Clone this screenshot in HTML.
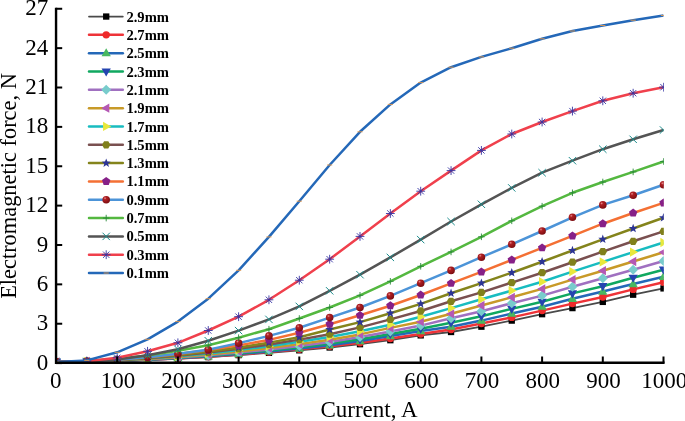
<!DOCTYPE html>
<html><head><meta charset="utf-8"><title>Electromagnetic force vs current</title>
<style>html,body{margin:0;padding:0;background:#fff}body{width:685px;height:421px;position:relative;overflow:hidden}</style></head>
<body>
<svg width="685" height="421" viewBox="0 0 685 421" style="position:absolute;left:0;top:0">
<defs><radialGradient id="ball" cx="0.35" cy="0.3" r="0.75"><stop offset="0" stop-color="#e89090"/><stop offset="0.25" stop-color="#b02024"/><stop offset="1" stop-color="#780c10"/></radialGradient>
<clipPath id="pc"><rect x="56.3" y="0" width="607.5" height="362.4"/></clipPath></defs>
<g clip-path="url(#pc)">
<polyline points="56.5,361.9 86.85,361.65 117.2,361.01 147.55,360.01 177.9,358.69 208.25,357.05 238.6,355.1 268.95,352.85 299.3,350.32 329.65,347.5 360,344.2 390.35,340.2 420.7,335.4 451.05,332 481.4,326.7 511.75,320.6 542.1,314.2 572.45,308.1 602.8,301.9 633.15,294.7 663.5,288.4" fill="none" stroke="#4a4a4a" stroke-width="1.8" stroke-linejoin="round"/>
<rect x="53.35" y="358.75" width="6.3" height="6.3" fill="#000000"/><rect x="83.7" y="358.5" width="6.3" height="6.3" fill="#000000"/><rect x="114.05" y="357.86" width="6.3" height="6.3" fill="#000000"/><rect x="144.4" y="356.86" width="6.3" height="6.3" fill="#000000"/><rect x="174.75" y="355.54" width="6.3" height="6.3" fill="#000000"/><rect x="205.1" y="353.9" width="6.3" height="6.3" fill="#000000"/><rect x="235.45" y="351.95" width="6.3" height="6.3" fill="#000000"/><rect x="265.8" y="349.7" width="6.3" height="6.3" fill="#000000"/><rect x="296.15" y="347.17" width="6.3" height="6.3" fill="#000000"/><rect x="326.5" y="344.35" width="6.3" height="6.3" fill="#000000"/><rect x="356.85" y="341.05" width="6.3" height="6.3" fill="#000000"/><rect x="387.2" y="337.05" width="6.3" height="6.3" fill="#000000"/><rect x="417.55" y="332.25" width="6.3" height="6.3" fill="#000000"/><rect x="447.9" y="328.85" width="6.3" height="6.3" fill="#000000"/><rect x="478.25" y="323.55" width="6.3" height="6.3" fill="#000000"/><rect x="508.6" y="317.45" width="6.3" height="6.3" fill="#000000"/><rect x="538.95" y="311.05" width="6.3" height="6.3" fill="#000000"/><rect x="569.3" y="304.95" width="6.3" height="6.3" fill="#000000"/><rect x="599.65" y="298.75" width="6.3" height="6.3" fill="#000000"/><rect x="630" y="291.55" width="6.3" height="6.3" fill="#000000"/><rect x="660.35" y="285.25" width="6.3" height="6.3" fill="#000000"/>
<polyline points="56.5,361.9 86.85,361.63 117.2,360.93 147.55,359.86 177.9,358.42 208.25,356.64 238.6,354.53 268.95,352.1 299.3,349.35 329.65,346.3 360,342.8 390.35,338.6 420.7,334.1 451.05,329.5 481.4,323.6 511.75,317.4 542.1,310.6 572.45,303.6 602.8,297 633.15,289.4 663.5,282.3" fill="none" stroke="#ee3338" stroke-width="2.5" stroke-linejoin="round"/>
<circle cx="56.5" cy="361.9" r="3.7" fill="#ee2a2a"/><circle cx="86.85" cy="361.63" r="3.7" fill="#ee2a2a"/><circle cx="117.2" cy="360.93" r="3.7" fill="#ee2a2a"/><circle cx="147.55" cy="359.86" r="3.7" fill="#ee2a2a"/><circle cx="177.9" cy="358.42" r="3.7" fill="#ee2a2a"/><circle cx="208.25" cy="356.64" r="3.7" fill="#ee2a2a"/><circle cx="238.6" cy="354.53" r="3.7" fill="#ee2a2a"/><circle cx="268.95" cy="352.1" r="3.7" fill="#ee2a2a"/><circle cx="299.3" cy="349.35" r="3.7" fill="#ee2a2a"/><circle cx="329.65" cy="346.3" r="3.7" fill="#ee2a2a"/><circle cx="360" cy="342.8" r="3.7" fill="#ee2a2a"/><circle cx="390.35" cy="338.6" r="3.7" fill="#ee2a2a"/><circle cx="420.7" cy="334.1" r="3.7" fill="#ee2a2a"/><circle cx="451.05" cy="329.5" r="3.7" fill="#ee2a2a"/><circle cx="481.4" cy="323.6" r="3.7" fill="#ee2a2a"/><circle cx="511.75" cy="317.4" r="3.7" fill="#ee2a2a"/><circle cx="542.1" cy="310.6" r="3.7" fill="#ee2a2a"/><circle cx="572.45" cy="303.6" r="3.7" fill="#ee2a2a"/><circle cx="602.8" cy="297" r="3.7" fill="#ee2a2a"/><circle cx="633.15" cy="289.4" r="3.7" fill="#ee2a2a"/><circle cx="663.5" cy="282.3" r="3.7" fill="#ee2a2a"/>
<polyline points="56.5,361.9 86.85,361.62 117.2,360.87 147.55,359.73 177.9,358.2 208.25,356.3 238.6,354.06 268.95,351.47 299.3,348.55 329.65,345.3 360,341.1 390.35,336.1 420.7,331 451.05,326.7 481.4,320.6 511.75,313.5 542.1,306.7 572.45,298.8 602.8,291.5 633.15,284 663.5,276.8" fill="none" stroke="#2468b8" stroke-width="2.5" stroke-linejoin="round"/>
<polygon points="56.5,356.85 61.15,365.03 51.85,365.03" fill="#48b860"/><polygon points="86.85,356.57 91.5,364.75 82.2,364.75" fill="#48b860"/><polygon points="117.2,355.82 121.85,364 112.55,364" fill="#48b860"/><polygon points="147.55,354.68 152.2,362.86 142.9,362.86" fill="#48b860"/><polygon points="177.9,353.15 182.55,361.33 173.25,361.33" fill="#48b860"/><polygon points="208.25,351.25 212.9,359.43 203.6,359.43" fill="#48b860"/><polygon points="238.6,349.01 243.25,357.19 233.95,357.19" fill="#48b860"/><polygon points="268.95,346.42 273.6,354.6 264.3,354.6" fill="#48b860"/><polygon points="299.3,343.5 303.95,351.68 294.65,351.68" fill="#48b860"/><polygon points="329.65,340.25 334.3,348.43 325,348.43" fill="#48b860"/><polygon points="360,336.05 364.65,344.23 355.35,344.23" fill="#48b860"/><polygon points="390.35,331.05 395,339.23 385.7,339.23" fill="#48b860"/><polygon points="420.7,325.95 425.35,334.13 416.05,334.13" fill="#48b860"/><polygon points="451.05,321.65 455.7,329.83 446.4,329.83" fill="#48b860"/><polygon points="481.4,315.55 486.05,323.73 476.75,323.73" fill="#48b860"/><polygon points="511.75,308.45 516.4,316.63 507.1,316.63" fill="#48b860"/><polygon points="542.1,301.65 546.75,309.83 537.45,309.83" fill="#48b860"/><polygon points="572.45,293.75 577.1,301.93 567.8,301.93" fill="#48b860"/><polygon points="602.8,286.45 607.45,294.63 598.15,294.63" fill="#48b860"/><polygon points="633.15,278.95 637.8,287.13 628.5,287.13" fill="#48b860"/><polygon points="663.5,271.75 668.15,279.93 658.85,279.93" fill="#48b860"/>
<polyline points="56.5,361.9 86.85,361.59 117.2,360.77 147.55,359.5 177.9,357.82 208.25,355.73 238.6,353.26 268.95,350.4 299.3,347.18 329.65,343.6 360,339.3 390.35,334 420.7,328.8 451.05,322.7 481.4,316.2 511.75,308.9 542.1,301.8 572.45,293.4 602.8,286.2 633.15,277.8 663.5,269.7" fill="none" stroke="#10a860" stroke-width="2.5" stroke-linejoin="round"/>
<polygon points="56.5,366.95 61.15,358.77 51.85,358.77" fill="#2444b0"/><polygon points="86.85,366.64 91.5,358.46 82.2,358.46" fill="#2444b0"/><polygon points="117.2,365.82 121.85,357.64 112.55,357.64" fill="#2444b0"/><polygon points="147.55,364.55 152.2,356.37 142.9,356.37" fill="#2444b0"/><polygon points="177.9,362.87 182.55,354.69 173.25,354.69" fill="#2444b0"/><polygon points="208.25,360.78 212.9,352.6 203.6,352.6" fill="#2444b0"/><polygon points="238.6,358.31 243.25,350.13 233.95,350.13" fill="#2444b0"/><polygon points="268.95,355.45 273.6,347.27 264.3,347.27" fill="#2444b0"/><polygon points="299.3,352.23 303.95,344.05 294.65,344.05" fill="#2444b0"/><polygon points="329.65,348.65 334.3,340.47 325,340.47" fill="#2444b0"/><polygon points="360,344.35 364.65,336.17 355.35,336.17" fill="#2444b0"/><polygon points="390.35,339.05 395,330.87 385.7,330.87" fill="#2444b0"/><polygon points="420.7,333.85 425.35,325.67 416.05,325.67" fill="#2444b0"/><polygon points="451.05,327.75 455.7,319.57 446.4,319.57" fill="#2444b0"/><polygon points="481.4,321.25 486.05,313.07 476.75,313.07" fill="#2444b0"/><polygon points="511.75,313.95 516.4,305.77 507.1,305.77" fill="#2444b0"/><polygon points="542.1,306.85 546.75,298.67 537.45,298.67" fill="#2444b0"/><polygon points="572.45,298.45 577.1,290.27 567.8,290.27" fill="#2444b0"/><polygon points="602.8,291.25 607.45,283.07 598.15,283.07" fill="#2444b0"/><polygon points="633.15,282.85 637.8,274.67 628.5,274.67" fill="#2444b0"/><polygon points="663.5,274.75 668.15,266.57 658.85,266.57" fill="#2444b0"/>
<polyline points="56.5,361.9 86.85,361.56 117.2,360.67 147.55,359.29 177.9,357.46 208.25,355.19 238.6,352.5 268.95,349.4 299.3,345.9 329.65,342 360,337.1 390.35,331.5 420.7,325.6 451.05,318.3 481.4,311.2 511.75,303.2 542.1,295.6 572.45,286.7 602.8,278.3 633.15,269.8 663.5,261" fill="none" stroke="#a070c0" stroke-width="2.5" stroke-linejoin="round"/>
<polygon points="56.5,356.9 61.5,361.9 56.5,366.9 51.5,361.9" fill="#78cccc"/><polygon points="86.85,356.56 91.85,361.56 86.85,366.56 81.85,361.56" fill="#78cccc"/><polygon points="117.2,355.67 122.2,360.67 117.2,365.67 112.2,360.67" fill="#78cccc"/><polygon points="147.55,354.29 152.55,359.29 147.55,364.29 142.55,359.29" fill="#78cccc"/><polygon points="177.9,352.46 182.9,357.46 177.9,362.46 172.9,357.46" fill="#78cccc"/><polygon points="208.25,350.19 213.25,355.19 208.25,360.19 203.25,355.19" fill="#78cccc"/><polygon points="238.6,347.5 243.6,352.5 238.6,357.5 233.6,352.5" fill="#78cccc"/><polygon points="268.95,344.4 273.95,349.4 268.95,354.4 263.95,349.4" fill="#78cccc"/><polygon points="299.3,340.9 304.3,345.9 299.3,350.9 294.3,345.9" fill="#78cccc"/><polygon points="329.65,337 334.65,342 329.65,347 324.65,342" fill="#78cccc"/><polygon points="360,332.1 365,337.1 360,342.1 355,337.1" fill="#78cccc"/><polygon points="390.35,326.5 395.35,331.5 390.35,336.5 385.35,331.5" fill="#78cccc"/><polygon points="420.7,320.6 425.7,325.6 420.7,330.6 415.7,325.6" fill="#78cccc"/><polygon points="451.05,313.3 456.05,318.3 451.05,323.3 446.05,318.3" fill="#78cccc"/><polygon points="481.4,306.2 486.4,311.2 481.4,316.2 476.4,311.2" fill="#78cccc"/><polygon points="511.75,298.2 516.75,303.2 511.75,308.2 506.75,303.2" fill="#78cccc"/><polygon points="542.1,290.6 547.1,295.6 542.1,300.6 537.1,295.6" fill="#78cccc"/><polygon points="572.45,281.7 577.45,286.7 572.45,291.7 567.45,286.7" fill="#78cccc"/><polygon points="602.8,273.3 607.8,278.3 602.8,283.3 597.8,278.3" fill="#78cccc"/><polygon points="633.15,264.8 638.15,269.8 633.15,274.8 628.15,269.8" fill="#78cccc"/><polygon points="663.5,256 668.5,261 663.5,266 658.5,261" fill="#78cccc"/>
<polyline points="56.5,361.9 86.85,361.52 117.2,360.53 147.55,359 177.9,356.97 208.25,354.45 238.6,351.46 268.95,348.02 299.3,344.13 329.65,339.8 360,334.4 390.35,327.9 420.7,321.7 451.05,313.8 481.4,305.5 511.75,297.3 542.1,288.9 572.45,279.6 602.8,270.7 633.15,261.5 663.5,252.3" fill="none" stroke="#c89a28" stroke-width="2.5" stroke-linejoin="round"/>
<polygon points="51.45,361.9 59.63,357.25 59.63,366.55" fill="#b458b4"/><polygon points="81.8,361.52 89.98,356.87 89.98,366.17" fill="#b458b4"/><polygon points="112.15,360.53 120.33,355.88 120.33,365.18" fill="#b458b4"/><polygon points="142.5,359 150.68,354.35 150.68,363.65" fill="#b458b4"/><polygon points="172.85,356.97 181.03,352.32 181.03,361.62" fill="#b458b4"/><polygon points="203.2,354.45 211.38,349.8 211.38,359.1" fill="#b458b4"/><polygon points="233.55,351.46 241.73,346.81 241.73,356.11" fill="#b458b4"/><polygon points="263.9,348.02 272.08,343.37 272.08,352.67" fill="#b458b4"/><polygon points="294.25,344.13 302.43,339.48 302.43,348.78" fill="#b458b4"/><polygon points="324.6,339.8 332.78,335.15 332.78,344.45" fill="#b458b4"/><polygon points="354.95,334.4 363.13,329.75 363.13,339.05" fill="#b458b4"/><polygon points="385.3,327.9 393.48,323.25 393.48,332.55" fill="#b458b4"/><polygon points="415.65,321.7 423.83,317.05 423.83,326.35" fill="#b458b4"/><polygon points="446,313.8 454.18,309.15 454.18,318.45" fill="#b458b4"/><polygon points="476.35,305.5 484.53,300.85 484.53,310.15" fill="#b458b4"/><polygon points="506.7,297.3 514.88,292.65 514.88,301.95" fill="#b458b4"/><polygon points="537.05,288.9 545.23,284.25 545.23,293.55" fill="#b458b4"/><polygon points="567.4,279.6 575.58,274.95 575.58,284.25" fill="#b458b4"/><polygon points="597.75,270.7 605.93,266.05 605.93,275.35" fill="#b458b4"/><polygon points="628.1,261.5 636.28,256.85 636.28,266.15" fill="#b458b4"/><polygon points="658.45,252.3 666.63,247.65 666.63,256.95" fill="#b458b4"/>
<polyline points="56.5,361.9 86.85,361.47 117.2,360.35 147.55,358.62 177.9,356.32 208.25,353.47 238.6,350.09 268.95,346.2 299.3,341.79 329.65,336.9 360,331.2 390.35,324.7 420.7,316.7 451.05,308.1 481.4,299.3 511.75,290.6 542.1,281.7 572.45,271.6 602.8,261.9 633.15,252.1 663.5,242.5" fill="none" stroke="#18bcc0" stroke-width="2.5" stroke-linejoin="round"/>
<polygon points="61.55,361.9 53.37,357.25 53.37,366.55" fill="#e8e83c"/><polygon points="91.9,361.47 83.72,356.82 83.72,366.12" fill="#e8e83c"/><polygon points="122.25,360.35 114.07,355.7 114.07,365" fill="#e8e83c"/><polygon points="152.6,358.62 144.42,353.97 144.42,363.27" fill="#e8e83c"/><polygon points="182.95,356.32 174.77,351.67 174.77,360.97" fill="#e8e83c"/><polygon points="213.3,353.47 205.12,348.82 205.12,358.12" fill="#e8e83c"/><polygon points="243.65,350.09 235.47,345.44 235.47,354.74" fill="#e8e83c"/><polygon points="274,346.2 265.82,341.55 265.82,350.85" fill="#e8e83c"/><polygon points="304.35,341.79 296.17,337.14 296.17,346.44" fill="#e8e83c"/><polygon points="334.7,336.9 326.52,332.25 326.52,341.55" fill="#e8e83c"/><polygon points="365.05,331.2 356.87,326.55 356.87,335.85" fill="#e8e83c"/><polygon points="395.4,324.7 387.22,320.05 387.22,329.35" fill="#e8e83c"/><polygon points="425.75,316.7 417.57,312.05 417.57,321.35" fill="#e8e83c"/><polygon points="456.1,308.1 447.92,303.45 447.92,312.75" fill="#e8e83c"/><polygon points="486.45,299.3 478.27,294.65 478.27,303.95" fill="#e8e83c"/><polygon points="516.8,290.6 508.62,285.95 508.62,295.25" fill="#e8e83c"/><polygon points="547.15,281.7 538.97,277.05 538.97,286.35" fill="#e8e83c"/><polygon points="577.5,271.6 569.32,266.95 569.32,276.25" fill="#e8e83c"/><polygon points="607.85,261.9 599.67,257.25 599.67,266.55" fill="#e8e83c"/><polygon points="638.2,252.1 630.02,247.45 630.02,256.75" fill="#e8e83c"/><polygon points="668.55,242.5 660.37,237.85 660.37,247.15" fill="#e8e83c"/>
<polyline points="56.5,361.9 86.85,361.42 117.2,360.19 147.55,358.27 177.9,355.72 208.25,352.56 238.6,348.82 268.95,344.5 299.3,339.62 329.65,334.2 360,327.4 390.35,319.4 420.7,311 451.05,301.3 481.4,292.4 511.75,282.6 542.1,272.7 572.45,262.2 602.8,251.6 633.15,241.3 663.5,231.4" fill="none" stroke="#7a5050" stroke-width="2.5" stroke-linejoin="round"/>
<polygon points="60.7,361.9 58.6,365.54 54.4,365.54 52.3,361.9 54.4,358.26 58.6,358.26" fill="#80801c"/><polygon points="91.05,361.42 88.95,365.06 84.75,365.06 82.65,361.42 84.75,357.78 88.95,357.78" fill="#80801c"/><polygon points="121.4,360.19 119.3,363.83 115.1,363.83 113,360.19 115.1,356.55 119.3,356.55" fill="#80801c"/><polygon points="151.75,358.27 149.65,361.91 145.45,361.91 143.35,358.27 145.45,354.63 149.65,354.63" fill="#80801c"/><polygon points="182.1,355.72 180,359.36 175.8,359.36 173.7,355.72 175.8,352.08 180,352.08" fill="#80801c"/><polygon points="212.45,352.56 210.35,356.2 206.15,356.2 204.05,352.56 206.15,348.92 210.35,348.92" fill="#80801c"/><polygon points="242.8,348.82 240.7,352.46 236.5,352.46 234.4,348.82 236.5,345.18 240.7,345.18" fill="#80801c"/><polygon points="273.15,344.5 271.05,348.14 266.85,348.14 264.75,344.5 266.85,340.86 271.05,340.86" fill="#80801c"/><polygon points="303.5,339.62 301.4,343.26 297.2,343.26 295.1,339.62 297.2,335.98 301.4,335.98" fill="#80801c"/><polygon points="333.85,334.2 331.75,337.84 327.55,337.84 325.45,334.2 327.55,330.56 331.75,330.56" fill="#80801c"/><polygon points="364.2,327.4 362.1,331.04 357.9,331.04 355.8,327.4 357.9,323.76 362.1,323.76" fill="#80801c"/><polygon points="394.55,319.4 392.45,323.04 388.25,323.04 386.15,319.4 388.25,315.76 392.45,315.76" fill="#80801c"/><polygon points="424.9,311 422.8,314.64 418.6,314.64 416.5,311 418.6,307.36 422.8,307.36" fill="#80801c"/><polygon points="455.25,301.3 453.15,304.94 448.95,304.94 446.85,301.3 448.95,297.66 453.15,297.66" fill="#80801c"/><polygon points="485.6,292.4 483.5,296.04 479.3,296.04 477.2,292.4 479.3,288.76 483.5,288.76" fill="#80801c"/><polygon points="515.95,282.6 513.85,286.24 509.65,286.24 507.55,282.6 509.65,278.96 513.85,278.96" fill="#80801c"/><polygon points="546.3,272.7 544.2,276.34 540,276.34 537.9,272.7 540,269.06 544.2,269.06" fill="#80801c"/><polygon points="576.65,262.2 574.55,265.84 570.35,265.84 568.25,262.2 570.35,258.56 574.55,258.56" fill="#80801c"/><polygon points="607,251.6 604.9,255.24 600.7,255.24 598.6,251.6 600.7,247.96 604.9,247.96" fill="#80801c"/><polygon points="637.35,241.3 635.25,244.94 631.05,244.94 628.95,241.3 631.05,237.66 635.25,237.66" fill="#80801c"/><polygon points="667.7,231.4 665.6,235.04 661.4,235.04 659.3,231.4 661.4,227.76 665.6,227.76" fill="#80801c"/>
<polyline points="56.5,361.9 86.85,361.37 117.2,360 147.55,357.88 177.9,355.05 208.25,351.55 238.6,347.39 268.95,342.61 299.3,337.2 329.65,329.5 360,322.1 390.35,313.2 420.7,303.9 451.05,293.3 481.4,283.1 511.75,272.7 542.1,261.7 572.45,250.5 602.8,239.3 633.15,228.5 663.5,217.8" fill="none" stroke="#84841c" stroke-width="2.5" stroke-linejoin="round"/>
<polygon points="56.5,357.2 57.66,360.3 60.97,360.45 58.38,362.51 59.26,365.7 56.5,363.87 53.74,365.7 54.62,362.51 52.03,360.45 55.34,360.3" fill="#2c3494"/><polygon points="86.85,356.67 88.01,359.77 91.32,359.92 88.73,361.98 89.61,365.17 86.85,363.34 84.09,365.17 84.97,361.98 82.38,359.92 85.69,359.77" fill="#2c3494"/><polygon points="117.2,355.3 118.36,358.4 121.67,358.55 119.08,360.61 119.96,363.8 117.2,361.97 114.44,363.8 115.32,360.61 112.73,358.55 116.04,358.4" fill="#2c3494"/><polygon points="147.55,353.18 148.71,356.28 152.02,356.43 149.43,358.49 150.31,361.68 147.55,359.85 144.79,361.68 145.67,358.49 143.08,356.43 146.39,356.28" fill="#2c3494"/><polygon points="177.9,350.35 179.06,353.45 182.37,353.6 179.78,355.66 180.66,358.85 177.9,357.02 175.14,358.85 176.02,355.66 173.43,353.6 176.74,353.45" fill="#2c3494"/><polygon points="208.25,346.85 209.41,349.95 212.72,350.1 210.13,352.16 211.01,355.35 208.25,353.52 205.49,355.35 206.37,352.16 203.78,350.1 207.09,349.95" fill="#2c3494"/><polygon points="238.6,342.69 239.76,345.79 243.07,345.94 240.48,348 241.36,351.19 238.6,349.36 235.84,351.19 236.72,348 234.13,345.94 237.44,345.79" fill="#2c3494"/><polygon points="268.95,337.91 270.11,341.01 273.42,341.16 270.83,343.22 271.71,346.41 268.95,344.58 266.19,346.41 267.07,343.22 264.48,341.16 267.79,341.01" fill="#2c3494"/><polygon points="299.3,332.5 300.46,335.6 303.77,335.75 301.18,337.81 302.06,341 299.3,339.17 296.54,341 297.42,337.81 294.83,335.75 298.14,335.6" fill="#2c3494"/><polygon points="329.65,324.8 330.81,327.9 334.12,328.05 331.53,330.11 332.41,333.3 329.65,331.47 326.89,333.3 327.77,330.11 325.18,328.05 328.49,327.9" fill="#2c3494"/><polygon points="360,317.4 361.16,320.5 364.47,320.65 361.88,322.71 362.76,325.9 360,324.07 357.24,325.9 358.12,322.71 355.53,320.65 358.84,320.5" fill="#2c3494"/><polygon points="390.35,308.5 391.51,311.6 394.82,311.75 392.23,313.81 393.11,317 390.35,315.17 387.59,317 388.47,313.81 385.88,311.75 389.19,311.6" fill="#2c3494"/><polygon points="420.7,299.2 421.86,302.3 425.17,302.45 422.58,304.51 423.46,307.7 420.7,305.87 417.94,307.7 418.82,304.51 416.23,302.45 419.54,302.3" fill="#2c3494"/><polygon points="451.05,288.6 452.21,291.7 455.52,291.85 452.93,293.91 453.81,297.1 451.05,295.27 448.29,297.1 449.17,293.91 446.58,291.85 449.89,291.7" fill="#2c3494"/><polygon points="481.4,278.4 482.56,281.5 485.87,281.65 483.28,283.71 484.16,286.9 481.4,285.07 478.64,286.9 479.52,283.71 476.93,281.65 480.24,281.5" fill="#2c3494"/><polygon points="511.75,268 512.91,271.1 516.22,271.25 513.63,273.31 514.51,276.5 511.75,274.67 508.99,276.5 509.87,273.31 507.28,271.25 510.59,271.1" fill="#2c3494"/><polygon points="542.1,257 543.26,260.1 546.57,260.25 543.98,262.31 544.86,265.5 542.1,263.67 539.34,265.5 540.22,262.31 537.63,260.25 540.94,260.1" fill="#2c3494"/><polygon points="572.45,245.8 573.61,248.9 576.92,249.05 574.33,251.11 575.21,254.3 572.45,252.47 569.69,254.3 570.57,251.11 567.98,249.05 571.29,248.9" fill="#2c3494"/><polygon points="602.8,234.6 603.96,237.7 607.27,237.85 604.68,239.91 605.56,243.1 602.8,241.27 600.04,243.1 600.92,239.91 598.33,237.85 601.64,237.7" fill="#2c3494"/><polygon points="633.15,223.8 634.31,226.9 637.62,227.05 635.03,229.11 635.91,232.3 633.15,230.47 630.39,232.3 631.27,229.11 628.68,227.05 631.99,226.9" fill="#2c3494"/><polygon points="663.5,213.1 664.66,216.2 667.97,216.35 665.38,218.41 666.26,221.6 663.5,219.77 660.74,221.6 661.62,218.41 659.03,216.35 662.34,216.2" fill="#2c3494"/>
<polyline points="56.5,361.9 86.85,361.3 117.2,359.73 147.55,357.31 177.9,354.09 208.25,350.09 238.6,345.36 268.95,339.9 299.3,332.7 329.65,324.2 360,315.3 390.35,305.7 420.7,295 451.05,283.3 481.4,271.9 511.75,259.9 542.1,247.8 572.45,235.9 602.8,223.7 633.15,213 663.5,202.9" fill="none" stroke="#f47034" stroke-width="2.5" stroke-linejoin="round"/>
<polygon points="56.5,357.5 60.68,360.54 59.09,365.46 53.91,365.46 52.32,360.54" fill="#862088"/><polygon points="86.85,356.9 91.03,359.94 89.44,364.86 84.26,364.86 82.67,359.94" fill="#862088"/><polygon points="117.2,355.33 121.38,358.37 119.79,363.29 114.61,363.29 113.02,358.37" fill="#862088"/><polygon points="147.55,352.91 151.73,355.95 150.14,360.87 144.96,360.87 143.37,355.95" fill="#862088"/><polygon points="177.9,349.69 182.08,352.73 180.49,357.65 175.31,357.65 173.72,352.73" fill="#862088"/><polygon points="208.25,345.69 212.43,348.73 210.84,353.65 205.66,353.65 204.07,348.73" fill="#862088"/><polygon points="238.6,340.96 242.78,344 241.19,348.92 236.01,348.92 234.42,344" fill="#862088"/><polygon points="268.95,335.5 273.13,338.54 271.54,343.46 266.36,343.46 264.77,338.54" fill="#862088"/><polygon points="299.3,328.3 303.48,331.34 301.89,336.26 296.71,336.26 295.12,331.34" fill="#862088"/><polygon points="329.65,319.8 333.83,322.84 332.24,327.76 327.06,327.76 325.47,322.84" fill="#862088"/><polygon points="360,310.9 364.18,313.94 362.59,318.86 357.41,318.86 355.82,313.94" fill="#862088"/><polygon points="390.35,301.3 394.53,304.34 392.94,309.26 387.76,309.26 386.17,304.34" fill="#862088"/><polygon points="420.7,290.6 424.88,293.64 423.29,298.56 418.11,298.56 416.52,293.64" fill="#862088"/><polygon points="451.05,278.9 455.23,281.94 453.64,286.86 448.46,286.86 446.87,281.94" fill="#862088"/><polygon points="481.4,267.5 485.58,270.54 483.99,275.46 478.81,275.46 477.22,270.54" fill="#862088"/><polygon points="511.75,255.5 515.93,258.54 514.34,263.46 509.16,263.46 507.57,258.54" fill="#862088"/><polygon points="542.1,243.4 546.28,246.44 544.69,251.36 539.51,251.36 537.92,246.44" fill="#862088"/><polygon points="572.45,231.5 576.63,234.54 575.04,239.46 569.86,239.46 568.27,234.54" fill="#862088"/><polygon points="602.8,219.3 606.98,222.34 605.39,227.26 600.21,227.26 598.62,222.34" fill="#862088"/><polygon points="633.15,208.6 637.33,211.64 635.74,216.56 630.56,216.56 628.97,211.64" fill="#862088"/><polygon points="663.5,198.5 667.68,201.54 666.09,206.46 660.91,206.46 659.32,201.54" fill="#862088"/>
<polyline points="56.5,361.9 86.85,361.28 117.2,359.66 147.55,357.16 177.9,353.83 208.25,349.7 238.6,343.1 268.95,335.9 299.3,327.8 329.65,317.6 360,307.5 390.35,295.9 420.7,283.2 451.05,270.4 481.4,257.2 511.75,244.3 542.1,231 572.45,217.3 602.8,204.9 633.15,195.3 663.5,184.8" fill="none" stroke="#4c94d8" stroke-width="2.5" stroke-linejoin="round"/>
<circle cx="56.5" cy="361.9" r="3.8" fill="url(#ball)"/><circle cx="86.85" cy="361.28" r="3.8" fill="url(#ball)"/><circle cx="117.2" cy="359.66" r="3.8" fill="url(#ball)"/><circle cx="147.55" cy="357.16" r="3.8" fill="url(#ball)"/><circle cx="177.9" cy="353.83" r="3.8" fill="url(#ball)"/><circle cx="208.25" cy="349.7" r="3.8" fill="url(#ball)"/><circle cx="238.6" cy="343.1" r="3.8" fill="url(#ball)"/><circle cx="268.95" cy="335.9" r="3.8" fill="url(#ball)"/><circle cx="299.3" cy="327.8" r="3.8" fill="url(#ball)"/><circle cx="329.65" cy="317.6" r="3.8" fill="url(#ball)"/><circle cx="360" cy="307.5" r="3.8" fill="url(#ball)"/><circle cx="390.35" cy="295.9" r="3.8" fill="url(#ball)"/><circle cx="420.7" cy="283.2" r="3.8" fill="url(#ball)"/><circle cx="451.05" cy="270.4" r="3.8" fill="url(#ball)"/><circle cx="481.4" cy="257.2" r="3.8" fill="url(#ball)"/><circle cx="511.75" cy="244.3" r="3.8" fill="url(#ball)"/><circle cx="542.1" cy="231" r="3.8" fill="url(#ball)"/><circle cx="572.45" cy="217.3" r="3.8" fill="url(#ball)"/><circle cx="602.8" cy="204.9" r="3.8" fill="url(#ball)"/><circle cx="633.15" cy="195.3" r="3.8" fill="url(#ball)"/><circle cx="663.5" cy="184.8" r="3.8" fill="url(#ball)"/>
<polyline points="56.5,361.9 86.85,361.05 117.2,358.83 147.55,355.41 177.9,350.85 208.25,345.2 238.6,337.7 268.95,329.2 299.3,318.5 329.65,307.5 360,295.3 390.35,281.3 420.7,266.3 451.05,251.9 481.4,236.8 511.75,220.8 542.1,206.2 572.45,192.8 602.8,182 633.15,171.9 663.5,161.5" fill="none" stroke="#54b840" stroke-width="2.5" stroke-linejoin="round"/>
<line x1="53.2" y1="361.9" x2="59.8" y2="361.9" stroke="#2a8a3a" stroke-width="0.9"/><line x1="56.5" y1="358.6" x2="56.5" y2="365.2" stroke="#2a8a3a" stroke-width="0.9"/><line x1="83.55" y1="361.05" x2="90.15" y2="361.05" stroke="#2a8a3a" stroke-width="0.9"/><line x1="86.85" y1="357.75" x2="86.85" y2="364.35" stroke="#2a8a3a" stroke-width="0.9"/><line x1="113.9" y1="358.83" x2="120.5" y2="358.83" stroke="#2a8a3a" stroke-width="0.9"/><line x1="117.2" y1="355.53" x2="117.2" y2="362.13" stroke="#2a8a3a" stroke-width="0.9"/><line x1="144.25" y1="355.41" x2="150.85" y2="355.41" stroke="#2a8a3a" stroke-width="0.9"/><line x1="147.55" y1="352.11" x2="147.55" y2="358.71" stroke="#2a8a3a" stroke-width="0.9"/><line x1="174.6" y1="350.85" x2="181.2" y2="350.85" stroke="#2a8a3a" stroke-width="0.9"/><line x1="177.9" y1="347.55" x2="177.9" y2="354.15" stroke="#2a8a3a" stroke-width="0.9"/><line x1="204.95" y1="345.2" x2="211.55" y2="345.2" stroke="#2a8a3a" stroke-width="0.9"/><line x1="208.25" y1="341.9" x2="208.25" y2="348.5" stroke="#2a8a3a" stroke-width="0.9"/><line x1="235.3" y1="337.7" x2="241.9" y2="337.7" stroke="#2a8a3a" stroke-width="0.9"/><line x1="238.6" y1="334.4" x2="238.6" y2="341" stroke="#2a8a3a" stroke-width="0.9"/><line x1="265.65" y1="329.2" x2="272.25" y2="329.2" stroke="#2a8a3a" stroke-width="0.9"/><line x1="268.95" y1="325.9" x2="268.95" y2="332.5" stroke="#2a8a3a" stroke-width="0.9"/><line x1="296" y1="318.5" x2="302.6" y2="318.5" stroke="#2a8a3a" stroke-width="0.9"/><line x1="299.3" y1="315.2" x2="299.3" y2="321.8" stroke="#2a8a3a" stroke-width="0.9"/><line x1="326.35" y1="307.5" x2="332.95" y2="307.5" stroke="#2a8a3a" stroke-width="0.9"/><line x1="329.65" y1="304.2" x2="329.65" y2="310.8" stroke="#2a8a3a" stroke-width="0.9"/><line x1="356.7" y1="295.3" x2="363.3" y2="295.3" stroke="#2a8a3a" stroke-width="0.9"/><line x1="360" y1="292" x2="360" y2="298.6" stroke="#2a8a3a" stroke-width="0.9"/><line x1="387.05" y1="281.3" x2="393.65" y2="281.3" stroke="#2a8a3a" stroke-width="0.9"/><line x1="390.35" y1="278" x2="390.35" y2="284.6" stroke="#2a8a3a" stroke-width="0.9"/><line x1="417.4" y1="266.3" x2="424" y2="266.3" stroke="#2a8a3a" stroke-width="0.9"/><line x1="420.7" y1="263" x2="420.7" y2="269.6" stroke="#2a8a3a" stroke-width="0.9"/><line x1="447.75" y1="251.9" x2="454.35" y2="251.9" stroke="#2a8a3a" stroke-width="0.9"/><line x1="451.05" y1="248.6" x2="451.05" y2="255.2" stroke="#2a8a3a" stroke-width="0.9"/><line x1="478.1" y1="236.8" x2="484.7" y2="236.8" stroke="#2a8a3a" stroke-width="0.9"/><line x1="481.4" y1="233.5" x2="481.4" y2="240.1" stroke="#2a8a3a" stroke-width="0.9"/><line x1="508.45" y1="220.8" x2="515.05" y2="220.8" stroke="#2a8a3a" stroke-width="0.9"/><line x1="511.75" y1="217.5" x2="511.75" y2="224.1" stroke="#2a8a3a" stroke-width="0.9"/><line x1="538.8" y1="206.2" x2="545.4" y2="206.2" stroke="#2a8a3a" stroke-width="0.9"/><line x1="542.1" y1="202.9" x2="542.1" y2="209.5" stroke="#2a8a3a" stroke-width="0.9"/><line x1="569.15" y1="192.8" x2="575.75" y2="192.8" stroke="#2a8a3a" stroke-width="0.9"/><line x1="572.45" y1="189.5" x2="572.45" y2="196.1" stroke="#2a8a3a" stroke-width="0.9"/><line x1="599.5" y1="182" x2="606.1" y2="182" stroke="#2a8a3a" stroke-width="0.9"/><line x1="602.8" y1="178.7" x2="602.8" y2="185.3" stroke="#2a8a3a" stroke-width="0.9"/><line x1="629.85" y1="171.9" x2="636.45" y2="171.9" stroke="#2a8a3a" stroke-width="0.9"/><line x1="633.15" y1="168.6" x2="633.15" y2="175.2" stroke="#2a8a3a" stroke-width="0.9"/><line x1="660.2" y1="161.5" x2="666.8" y2="161.5" stroke="#2a8a3a" stroke-width="0.9"/><line x1="663.5" y1="158.2" x2="663.5" y2="164.8" stroke="#2a8a3a" stroke-width="0.9"/>
<polyline points="56.5,361.9 86.85,361.5 117.2,359.5 147.55,355.3 177.9,349.3 208.25,340.7 238.6,330.6 268.95,319.4 299.3,306.4 329.65,290.8 360,274.7 390.35,257.4 420.7,239.6 451.05,221.5 481.4,204.3 511.75,187.9 542.1,172.7 572.45,160.7 602.8,149.2 633.15,139.3 663.5,130" fill="none" stroke="#545454" stroke-width="2.5" stroke-linejoin="round"/>
<line x1="52.8" y1="358.2" x2="60.2" y2="365.6" stroke="#1c8c8c" stroke-width="1.0"/><line x1="52.8" y1="365.6" x2="60.2" y2="358.2" stroke="#1c8c8c" stroke-width="1.0"/><line x1="83.15" y1="357.8" x2="90.55" y2="365.2" stroke="#1c8c8c" stroke-width="1.0"/><line x1="83.15" y1="365.2" x2="90.55" y2="357.8" stroke="#1c8c8c" stroke-width="1.0"/><line x1="113.5" y1="355.8" x2="120.9" y2="363.2" stroke="#1c8c8c" stroke-width="1.0"/><line x1="113.5" y1="363.2" x2="120.9" y2="355.8" stroke="#1c8c8c" stroke-width="1.0"/><line x1="143.85" y1="351.6" x2="151.25" y2="359" stroke="#1c8c8c" stroke-width="1.0"/><line x1="143.85" y1="359" x2="151.25" y2="351.6" stroke="#1c8c8c" stroke-width="1.0"/><line x1="174.2" y1="345.6" x2="181.6" y2="353" stroke="#1c8c8c" stroke-width="1.0"/><line x1="174.2" y1="353" x2="181.6" y2="345.6" stroke="#1c8c8c" stroke-width="1.0"/><line x1="204.55" y1="337" x2="211.95" y2="344.4" stroke="#1c8c8c" stroke-width="1.0"/><line x1="204.55" y1="344.4" x2="211.95" y2="337" stroke="#1c8c8c" stroke-width="1.0"/><line x1="234.9" y1="326.9" x2="242.3" y2="334.3" stroke="#1c8c8c" stroke-width="1.0"/><line x1="234.9" y1="334.3" x2="242.3" y2="326.9" stroke="#1c8c8c" stroke-width="1.0"/><line x1="265.25" y1="315.7" x2="272.65" y2="323.1" stroke="#1c8c8c" stroke-width="1.0"/><line x1="265.25" y1="323.1" x2="272.65" y2="315.7" stroke="#1c8c8c" stroke-width="1.0"/><line x1="295.6" y1="302.7" x2="303" y2="310.1" stroke="#1c8c8c" stroke-width="1.0"/><line x1="295.6" y1="310.1" x2="303" y2="302.7" stroke="#1c8c8c" stroke-width="1.0"/><line x1="325.95" y1="287.1" x2="333.35" y2="294.5" stroke="#1c8c8c" stroke-width="1.0"/><line x1="325.95" y1="294.5" x2="333.35" y2="287.1" stroke="#1c8c8c" stroke-width="1.0"/><line x1="356.3" y1="271" x2="363.7" y2="278.4" stroke="#1c8c8c" stroke-width="1.0"/><line x1="356.3" y1="278.4" x2="363.7" y2="271" stroke="#1c8c8c" stroke-width="1.0"/><line x1="386.65" y1="253.7" x2="394.05" y2="261.1" stroke="#1c8c8c" stroke-width="1.0"/><line x1="386.65" y1="261.1" x2="394.05" y2="253.7" stroke="#1c8c8c" stroke-width="1.0"/><line x1="417" y1="235.9" x2="424.4" y2="243.3" stroke="#1c8c8c" stroke-width="1.0"/><line x1="417" y1="243.3" x2="424.4" y2="235.9" stroke="#1c8c8c" stroke-width="1.0"/><line x1="447.35" y1="217.8" x2="454.75" y2="225.2" stroke="#1c8c8c" stroke-width="1.0"/><line x1="447.35" y1="225.2" x2="454.75" y2="217.8" stroke="#1c8c8c" stroke-width="1.0"/><line x1="477.7" y1="200.6" x2="485.1" y2="208" stroke="#1c8c8c" stroke-width="1.0"/><line x1="477.7" y1="208" x2="485.1" y2="200.6" stroke="#1c8c8c" stroke-width="1.0"/><line x1="508.05" y1="184.2" x2="515.45" y2="191.6" stroke="#1c8c8c" stroke-width="1.0"/><line x1="508.05" y1="191.6" x2="515.45" y2="184.2" stroke="#1c8c8c" stroke-width="1.0"/><line x1="538.4" y1="169" x2="545.8" y2="176.4" stroke="#1c8c8c" stroke-width="1.0"/><line x1="538.4" y1="176.4" x2="545.8" y2="169" stroke="#1c8c8c" stroke-width="1.0"/><line x1="568.75" y1="157" x2="576.15" y2="164.4" stroke="#1c8c8c" stroke-width="1.0"/><line x1="568.75" y1="164.4" x2="576.15" y2="157" stroke="#1c8c8c" stroke-width="1.0"/><line x1="599.1" y1="145.5" x2="606.5" y2="152.9" stroke="#1c8c8c" stroke-width="1.0"/><line x1="599.1" y1="152.9" x2="606.5" y2="145.5" stroke="#1c8c8c" stroke-width="1.0"/><line x1="629.45" y1="135.6" x2="636.85" y2="143" stroke="#1c8c8c" stroke-width="1.0"/><line x1="629.45" y1="143" x2="636.85" y2="135.6" stroke="#1c8c8c" stroke-width="1.0"/><line x1="659.8" y1="126.3" x2="667.2" y2="133.7" stroke="#1c8c8c" stroke-width="1.0"/><line x1="659.8" y1="133.7" x2="667.2" y2="126.3" stroke="#1c8c8c" stroke-width="1.0"/>
<polyline points="56.5,361.9 86.85,361.2 117.2,357.8 147.55,351.3 177.9,342.8 208.25,330.5 238.6,316.7 268.95,299.8 299.3,280.2 329.65,259.2 360,236.4 390.35,213.5 420.7,191.2 451.05,170.6 481.4,150.4 511.75,134 542.1,122 572.45,111.1 602.8,100.8 633.15,93.2 663.5,87.2" fill="none" stroke="#f0404c" stroke-width="2.5" stroke-linejoin="round"/>
<line x1="52.1" y1="361.9" x2="60.9" y2="361.9" stroke="#3434a4" stroke-width="0.9"/><line x1="56.5" y1="357.5" x2="56.5" y2="366.3" stroke="#3434a4" stroke-width="0.9"/><line x1="53.33" y1="358.73" x2="59.67" y2="365.07" stroke="#3434a4" stroke-width="0.9"/><line x1="53.33" y1="365.07" x2="59.67" y2="358.73" stroke="#3434a4" stroke-width="0.9"/><line x1="82.45" y1="361.2" x2="91.25" y2="361.2" stroke="#3434a4" stroke-width="0.9"/><line x1="86.85" y1="356.8" x2="86.85" y2="365.6" stroke="#3434a4" stroke-width="0.9"/><line x1="83.68" y1="358.03" x2="90.02" y2="364.37" stroke="#3434a4" stroke-width="0.9"/><line x1="83.68" y1="364.37" x2="90.02" y2="358.03" stroke="#3434a4" stroke-width="0.9"/><line x1="112.8" y1="357.8" x2="121.6" y2="357.8" stroke="#3434a4" stroke-width="0.9"/><line x1="117.2" y1="353.4" x2="117.2" y2="362.2" stroke="#3434a4" stroke-width="0.9"/><line x1="114.03" y1="354.63" x2="120.37" y2="360.97" stroke="#3434a4" stroke-width="0.9"/><line x1="114.03" y1="360.97" x2="120.37" y2="354.63" stroke="#3434a4" stroke-width="0.9"/><line x1="143.15" y1="351.3" x2="151.95" y2="351.3" stroke="#3434a4" stroke-width="0.9"/><line x1="147.55" y1="346.9" x2="147.55" y2="355.7" stroke="#3434a4" stroke-width="0.9"/><line x1="144.38" y1="348.13" x2="150.72" y2="354.47" stroke="#3434a4" stroke-width="0.9"/><line x1="144.38" y1="354.47" x2="150.72" y2="348.13" stroke="#3434a4" stroke-width="0.9"/><line x1="173.5" y1="342.8" x2="182.3" y2="342.8" stroke="#3434a4" stroke-width="0.9"/><line x1="177.9" y1="338.4" x2="177.9" y2="347.2" stroke="#3434a4" stroke-width="0.9"/><line x1="174.73" y1="339.63" x2="181.07" y2="345.97" stroke="#3434a4" stroke-width="0.9"/><line x1="174.73" y1="345.97" x2="181.07" y2="339.63" stroke="#3434a4" stroke-width="0.9"/><line x1="203.85" y1="330.5" x2="212.65" y2="330.5" stroke="#3434a4" stroke-width="0.9"/><line x1="208.25" y1="326.1" x2="208.25" y2="334.9" stroke="#3434a4" stroke-width="0.9"/><line x1="205.08" y1="327.33" x2="211.42" y2="333.67" stroke="#3434a4" stroke-width="0.9"/><line x1="205.08" y1="333.67" x2="211.42" y2="327.33" stroke="#3434a4" stroke-width="0.9"/><line x1="234.2" y1="316.7" x2="243" y2="316.7" stroke="#3434a4" stroke-width="0.9"/><line x1="238.6" y1="312.3" x2="238.6" y2="321.1" stroke="#3434a4" stroke-width="0.9"/><line x1="235.43" y1="313.53" x2="241.77" y2="319.87" stroke="#3434a4" stroke-width="0.9"/><line x1="235.43" y1="319.87" x2="241.77" y2="313.53" stroke="#3434a4" stroke-width="0.9"/><line x1="264.55" y1="299.8" x2="273.35" y2="299.8" stroke="#3434a4" stroke-width="0.9"/><line x1="268.95" y1="295.4" x2="268.95" y2="304.2" stroke="#3434a4" stroke-width="0.9"/><line x1="265.78" y1="296.63" x2="272.12" y2="302.97" stroke="#3434a4" stroke-width="0.9"/><line x1="265.78" y1="302.97" x2="272.12" y2="296.63" stroke="#3434a4" stroke-width="0.9"/><line x1="294.9" y1="280.2" x2="303.7" y2="280.2" stroke="#3434a4" stroke-width="0.9"/><line x1="299.3" y1="275.8" x2="299.3" y2="284.6" stroke="#3434a4" stroke-width="0.9"/><line x1="296.13" y1="277.03" x2="302.47" y2="283.37" stroke="#3434a4" stroke-width="0.9"/><line x1="296.13" y1="283.37" x2="302.47" y2="277.03" stroke="#3434a4" stroke-width="0.9"/><line x1="325.25" y1="259.2" x2="334.05" y2="259.2" stroke="#3434a4" stroke-width="0.9"/><line x1="329.65" y1="254.8" x2="329.65" y2="263.6" stroke="#3434a4" stroke-width="0.9"/><line x1="326.48" y1="256.03" x2="332.82" y2="262.37" stroke="#3434a4" stroke-width="0.9"/><line x1="326.48" y1="262.37" x2="332.82" y2="256.03" stroke="#3434a4" stroke-width="0.9"/><line x1="355.6" y1="236.4" x2="364.4" y2="236.4" stroke="#3434a4" stroke-width="0.9"/><line x1="360" y1="232" x2="360" y2="240.8" stroke="#3434a4" stroke-width="0.9"/><line x1="356.83" y1="233.23" x2="363.17" y2="239.57" stroke="#3434a4" stroke-width="0.9"/><line x1="356.83" y1="239.57" x2="363.17" y2="233.23" stroke="#3434a4" stroke-width="0.9"/><line x1="385.95" y1="213.5" x2="394.75" y2="213.5" stroke="#3434a4" stroke-width="0.9"/><line x1="390.35" y1="209.1" x2="390.35" y2="217.9" stroke="#3434a4" stroke-width="0.9"/><line x1="387.18" y1="210.33" x2="393.52" y2="216.67" stroke="#3434a4" stroke-width="0.9"/><line x1="387.18" y1="216.67" x2="393.52" y2="210.33" stroke="#3434a4" stroke-width="0.9"/><line x1="416.3" y1="191.2" x2="425.1" y2="191.2" stroke="#3434a4" stroke-width="0.9"/><line x1="420.7" y1="186.8" x2="420.7" y2="195.6" stroke="#3434a4" stroke-width="0.9"/><line x1="417.53" y1="188.03" x2="423.87" y2="194.37" stroke="#3434a4" stroke-width="0.9"/><line x1="417.53" y1="194.37" x2="423.87" y2="188.03" stroke="#3434a4" stroke-width="0.9"/><line x1="446.65" y1="170.6" x2="455.45" y2="170.6" stroke="#3434a4" stroke-width="0.9"/><line x1="451.05" y1="166.2" x2="451.05" y2="175" stroke="#3434a4" stroke-width="0.9"/><line x1="447.88" y1="167.43" x2="454.22" y2="173.77" stroke="#3434a4" stroke-width="0.9"/><line x1="447.88" y1="173.77" x2="454.22" y2="167.43" stroke="#3434a4" stroke-width="0.9"/><line x1="477" y1="150.4" x2="485.8" y2="150.4" stroke="#3434a4" stroke-width="0.9"/><line x1="481.4" y1="146" x2="481.4" y2="154.8" stroke="#3434a4" stroke-width="0.9"/><line x1="478.23" y1="147.23" x2="484.57" y2="153.57" stroke="#3434a4" stroke-width="0.9"/><line x1="478.23" y1="153.57" x2="484.57" y2="147.23" stroke="#3434a4" stroke-width="0.9"/><line x1="507.35" y1="134" x2="516.15" y2="134" stroke="#3434a4" stroke-width="0.9"/><line x1="511.75" y1="129.6" x2="511.75" y2="138.4" stroke="#3434a4" stroke-width="0.9"/><line x1="508.58" y1="130.83" x2="514.92" y2="137.17" stroke="#3434a4" stroke-width="0.9"/><line x1="508.58" y1="137.17" x2="514.92" y2="130.83" stroke="#3434a4" stroke-width="0.9"/><line x1="537.7" y1="122" x2="546.5" y2="122" stroke="#3434a4" stroke-width="0.9"/><line x1="542.1" y1="117.6" x2="542.1" y2="126.4" stroke="#3434a4" stroke-width="0.9"/><line x1="538.93" y1="118.83" x2="545.27" y2="125.17" stroke="#3434a4" stroke-width="0.9"/><line x1="538.93" y1="125.17" x2="545.27" y2="118.83" stroke="#3434a4" stroke-width="0.9"/><line x1="568.05" y1="111.1" x2="576.85" y2="111.1" stroke="#3434a4" stroke-width="0.9"/><line x1="572.45" y1="106.7" x2="572.45" y2="115.5" stroke="#3434a4" stroke-width="0.9"/><line x1="569.28" y1="107.93" x2="575.62" y2="114.27" stroke="#3434a4" stroke-width="0.9"/><line x1="569.28" y1="114.27" x2="575.62" y2="107.93" stroke="#3434a4" stroke-width="0.9"/><line x1="598.4" y1="100.8" x2="607.2" y2="100.8" stroke="#3434a4" stroke-width="0.9"/><line x1="602.8" y1="96.4" x2="602.8" y2="105.2" stroke="#3434a4" stroke-width="0.9"/><line x1="599.63" y1="97.63" x2="605.97" y2="103.97" stroke="#3434a4" stroke-width="0.9"/><line x1="599.63" y1="103.97" x2="605.97" y2="97.63" stroke="#3434a4" stroke-width="0.9"/><line x1="628.75" y1="93.2" x2="637.55" y2="93.2" stroke="#3434a4" stroke-width="0.9"/><line x1="633.15" y1="88.8" x2="633.15" y2="97.6" stroke="#3434a4" stroke-width="0.9"/><line x1="629.98" y1="90.03" x2="636.32" y2="96.37" stroke="#3434a4" stroke-width="0.9"/><line x1="629.98" y1="96.37" x2="636.32" y2="90.03" stroke="#3434a4" stroke-width="0.9"/><line x1="659.1" y1="87.2" x2="667.9" y2="87.2" stroke="#3434a4" stroke-width="0.9"/><line x1="663.5" y1="82.8" x2="663.5" y2="91.6" stroke="#3434a4" stroke-width="0.9"/><line x1="660.33" y1="84.03" x2="666.67" y2="90.37" stroke="#3434a4" stroke-width="0.9"/><line x1="660.33" y1="90.37" x2="666.67" y2="84.03" stroke="#3434a4" stroke-width="0.9"/>
<polyline points="56.5,361.9 86.85,360.4 117.2,352.3 147.55,339.3 177.9,321.6 208.25,298.7 238.6,270.3 268.95,236.9 299.3,201.2 329.65,165 360,131.8 390.35,104.4 420.7,82.6 451.05,67.2 481.4,56.9 511.75,48.2 542.1,38.8 572.45,31 602.8,25.5 633.15,20.2 663.5,15.5" fill="none" stroke="#2468b8" stroke-width="2.5" stroke-linejoin="round"/>
<line x1="53.9" y1="361.9" x2="59.1" y2="361.9" stroke="#e89848" stroke-width="0.9"/><line x1="84.25" y1="360.4" x2="89.45" y2="360.4" stroke="#e89848" stroke-width="0.9"/><line x1="114.6" y1="352.3" x2="119.8" y2="352.3" stroke="#e89848" stroke-width="0.9"/><line x1="144.95" y1="339.3" x2="150.15" y2="339.3" stroke="#e89848" stroke-width="0.9"/><line x1="175.3" y1="321.6" x2="180.5" y2="321.6" stroke="#e89848" stroke-width="0.9"/><line x1="205.65" y1="298.7" x2="210.85" y2="298.7" stroke="#e89848" stroke-width="0.9"/><line x1="236" y1="270.3" x2="241.2" y2="270.3" stroke="#e89848" stroke-width="0.9"/><line x1="266.35" y1="236.9" x2="271.55" y2="236.9" stroke="#e89848" stroke-width="0.9"/><line x1="296.7" y1="201.2" x2="301.9" y2="201.2" stroke="#e89848" stroke-width="0.9"/><line x1="327.05" y1="165" x2="332.25" y2="165" stroke="#e89848" stroke-width="0.9"/><line x1="357.4" y1="131.8" x2="362.6" y2="131.8" stroke="#e89848" stroke-width="0.9"/><line x1="387.75" y1="104.4" x2="392.95" y2="104.4" stroke="#e89848" stroke-width="0.9"/><line x1="418.1" y1="82.6" x2="423.3" y2="82.6" stroke="#e89848" stroke-width="0.9"/><line x1="448.45" y1="67.2" x2="453.65" y2="67.2" stroke="#e89848" stroke-width="0.9"/><line x1="478.8" y1="56.9" x2="484" y2="56.9" stroke="#e89848" stroke-width="0.9"/><line x1="509.15" y1="48.2" x2="514.35" y2="48.2" stroke="#e89848" stroke-width="0.9"/><line x1="539.5" y1="38.8" x2="544.7" y2="38.8" stroke="#e89848" stroke-width="0.9"/><line x1="569.85" y1="31" x2="575.05" y2="31" stroke="#e89848" stroke-width="0.9"/><line x1="600.2" y1="25.5" x2="605.4" y2="25.5" stroke="#e89848" stroke-width="0.9"/><line x1="630.55" y1="20.2" x2="635.75" y2="20.2" stroke="#e89848" stroke-width="0.9"/><line x1="660.9" y1="15.5" x2="666.1" y2="15.5" stroke="#e89848" stroke-width="0.9"/>
</g>
<g stroke="#000" stroke-width="2.4" fill="none">
<path d="M56.05,7.8 V362.8 H664.6"/>
</g><g stroke="#000" stroke-width="2" fill="none">
<line x1="55.8" y1="363.1" x2="62.2" y2="363.1"/>
<line x1="55.8" y1="323.73" x2="62.2" y2="323.73"/>
<line x1="55.8" y1="284.36" x2="62.2" y2="284.36"/>
<line x1="55.8" y1="244.99" x2="62.2" y2="244.99"/>
<line x1="55.8" y1="205.62" x2="62.2" y2="205.62"/>
<line x1="55.8" y1="166.25" x2="62.2" y2="166.25"/>
<line x1="55.8" y1="126.88" x2="62.2" y2="126.88"/>
<line x1="55.8" y1="87.51" x2="62.2" y2="87.51"/>
<line x1="55.8" y1="48.14" x2="62.2" y2="48.14"/>
<line x1="55.8" y1="8.77" x2="62.2" y2="8.77"/>
<line x1="117.2" y1="362.8" x2="117.2" y2="356.5"/>
<line x1="177.9" y1="362.8" x2="177.9" y2="356.5"/>
<line x1="238.6" y1="362.8" x2="238.6" y2="356.5"/>
<line x1="299.3" y1="362.8" x2="299.3" y2="356.5"/>
<line x1="360" y1="362.8" x2="360" y2="356.5"/>
<line x1="420.7" y1="362.8" x2="420.7" y2="356.5"/>
<line x1="481.4" y1="362.8" x2="481.4" y2="356.5"/>
<line x1="542.1" y1="362.8" x2="542.1" y2="356.5"/>
<line x1="602.8" y1="362.8" x2="602.8" y2="356.5"/>
<line x1="663.5" y1="362.8" x2="663.5" y2="356.5"/>
</g>
<g font-family="'Liberation Serif', serif" font-size="23" fill="#000">
<text x="48.3" y="369.65" text-anchor="end">0</text>
<text x="48.3" y="330.28" text-anchor="end">3</text>
<text x="48.3" y="290.91" text-anchor="end">6</text>
<text x="48.3" y="251.54" text-anchor="end">9</text>
<text x="48.3" y="212.17" text-anchor="end">12</text>
<text x="48.3" y="172.8" text-anchor="end">15</text>
<text x="48.3" y="133.43" text-anchor="end">18</text>
<text x="48.3" y="94.06" text-anchor="end">21</text>
<text x="48.3" y="54.69" text-anchor="end">24</text>
<text x="48.3" y="15.32" text-anchor="end">27</text>
<text x="55.7" y="388" text-anchor="middle">0</text>
<text x="117.9" y="388" text-anchor="middle">100</text>
<text x="178.6" y="388" text-anchor="middle">200</text>
<text x="239.3" y="388" text-anchor="middle">300</text>
<text x="300" y="388" text-anchor="middle">400</text>
<text x="360.7" y="388" text-anchor="middle">500</text>
<text x="421.4" y="388" text-anchor="middle">600</text>
<text x="482.1" y="388" text-anchor="middle">700</text>
<text x="542.8" y="388" text-anchor="middle">800</text>
<text x="603.5" y="388" text-anchor="middle">900</text>
<text x="664.2" y="388" text-anchor="middle">1000</text>
<text x="369" y="417.3" text-anchor="middle">Current, A</text>
<text transform="translate(15.9,186) rotate(-90)" text-anchor="middle" font-size="22.4">Electromagnetic force, N</text>
</g>
<g font-family="'Liberation Serif', serif" font-size="14.6" font-weight="bold" fill="#000">
<line x1="89" y1="16.55" x2="122.8" y2="16.55" stroke="#4a4a4a" stroke-width="1.8" stroke-linecap="round"/>
<rect x="103.05" y="13.4" width="6.3" height="6.3" fill="#000000"/>
<text x="126.4" y="21.6">2.9mm</text>
<line x1="89" y1="34.87" x2="122.8" y2="34.87" stroke="#ee3338" stroke-width="2.5" stroke-linecap="round"/>
<circle cx="106.2" cy="34.87" r="3.7" fill="#ee2a2a"/>
<text x="126.4" y="39.92">2.7mm</text>
<line x1="89" y1="53.19" x2="122.8" y2="53.19" stroke="#2468b8" stroke-width="2.5" stroke-linecap="round"/>
<polygon points="106.2,48.14 110.85,56.32 101.55,56.32" fill="#48b860"/>
<text x="126.4" y="58.24">2.5mm</text>
<line x1="89" y1="71.51" x2="122.8" y2="71.51" stroke="#10a860" stroke-width="2.5" stroke-linecap="round"/>
<polygon points="106.2,76.56 110.85,68.38 101.55,68.38" fill="#2444b0"/>
<text x="126.4" y="76.56">2.3mm</text>
<line x1="89" y1="89.83" x2="122.8" y2="89.83" stroke="#a070c0" stroke-width="2.5" stroke-linecap="round"/>
<polygon points="106.2,84.83 111.2,89.83 106.2,94.83 101.2,89.83" fill="#78cccc"/>
<text x="126.4" y="94.88">2.1mm</text>
<line x1="89" y1="108.15" x2="122.8" y2="108.15" stroke="#c89a28" stroke-width="2.5" stroke-linecap="round"/>
<polygon points="101.15,108.15 109.33,103.5 109.33,112.8" fill="#b458b4"/>
<text x="126.4" y="113.2">1.9mm</text>
<line x1="89" y1="126.47" x2="122.8" y2="126.47" stroke="#18bcc0" stroke-width="2.5" stroke-linecap="round"/>
<polygon points="111.25,126.47 103.07,121.82 103.07,131.12" fill="#e8e83c"/>
<text x="126.4" y="131.52">1.7mm</text>
<line x1="89" y1="144.79" x2="122.8" y2="144.79" stroke="#7a5050" stroke-width="2.5" stroke-linecap="round"/>
<polygon points="110.4,144.79 108.3,148.43 104.1,148.43 102,144.79 104.1,141.15 108.3,141.15" fill="#80801c"/>
<text x="126.4" y="149.84">1.5mm</text>
<line x1="89" y1="163.11" x2="122.8" y2="163.11" stroke="#84841c" stroke-width="2.5" stroke-linecap="round"/>
<polygon points="106.2,158.41 107.36,161.51 110.67,161.66 108.08,163.72 108.96,166.91 106.2,165.08 103.44,166.91 104.32,163.72 101.73,161.66 105.04,161.51" fill="#2c3494"/>
<text x="126.4" y="168.16">1.3mm</text>
<line x1="89" y1="181.43" x2="122.8" y2="181.43" stroke="#f47034" stroke-width="2.5" stroke-linecap="round"/>
<polygon points="106.2,177.03 110.38,180.07 108.79,184.99 103.61,184.99 102.02,180.07" fill="#862088"/>
<text x="126.4" y="186.48">1.1mm</text>
<line x1="89" y1="199.75" x2="122.8" y2="199.75" stroke="#4c94d8" stroke-width="2.5" stroke-linecap="round"/>
<circle cx="106.2" cy="199.75" r="3.8" fill="url(#ball)"/>
<text x="126.4" y="204.8">0.9mm</text>
<line x1="89" y1="218.07" x2="122.8" y2="218.07" stroke="#54b840" stroke-width="2.5" stroke-linecap="round"/>
<line x1="102.9" y1="218.07" x2="109.5" y2="218.07" stroke="#2a8a3a" stroke-width="0.9"/><line x1="106.2" y1="214.77" x2="106.2" y2="221.37" stroke="#2a8a3a" stroke-width="0.9"/>
<text x="126.4" y="223.12">0.7mm</text>
<line x1="89" y1="236.39" x2="122.8" y2="236.39" stroke="#545454" stroke-width="2.5" stroke-linecap="round"/>
<line x1="102.5" y1="232.69" x2="109.9" y2="240.09" stroke="#1c8c8c" stroke-width="1.0"/><line x1="102.5" y1="240.09" x2="109.9" y2="232.69" stroke="#1c8c8c" stroke-width="1.0"/>
<text x="126.4" y="241.44">0.5mm</text>
<line x1="89" y1="254.71" x2="122.8" y2="254.71" stroke="#f0404c" stroke-width="2.5" stroke-linecap="round"/>
<line x1="101.8" y1="254.71" x2="110.6" y2="254.71" stroke="#3434a4" stroke-width="0.9"/><line x1="106.2" y1="250.31" x2="106.2" y2="259.11" stroke="#3434a4" stroke-width="0.9"/><line x1="103.03" y1="251.54" x2="109.37" y2="257.88" stroke="#3434a4" stroke-width="0.9"/><line x1="103.03" y1="257.88" x2="109.37" y2="251.54" stroke="#3434a4" stroke-width="0.9"/>
<text x="126.4" y="259.76">0.3mm</text>
<line x1="89" y1="273.03" x2="122.8" y2="273.03" stroke="#2468b8" stroke-width="2.5" stroke-linecap="round"/>
<line x1="103.6" y1="273.03" x2="108.8" y2="273.03" stroke="#e89848" stroke-width="0.9"/>
<text x="126.4" y="278.08">0.1mm</text>
</g>
</svg>
</body></html>
